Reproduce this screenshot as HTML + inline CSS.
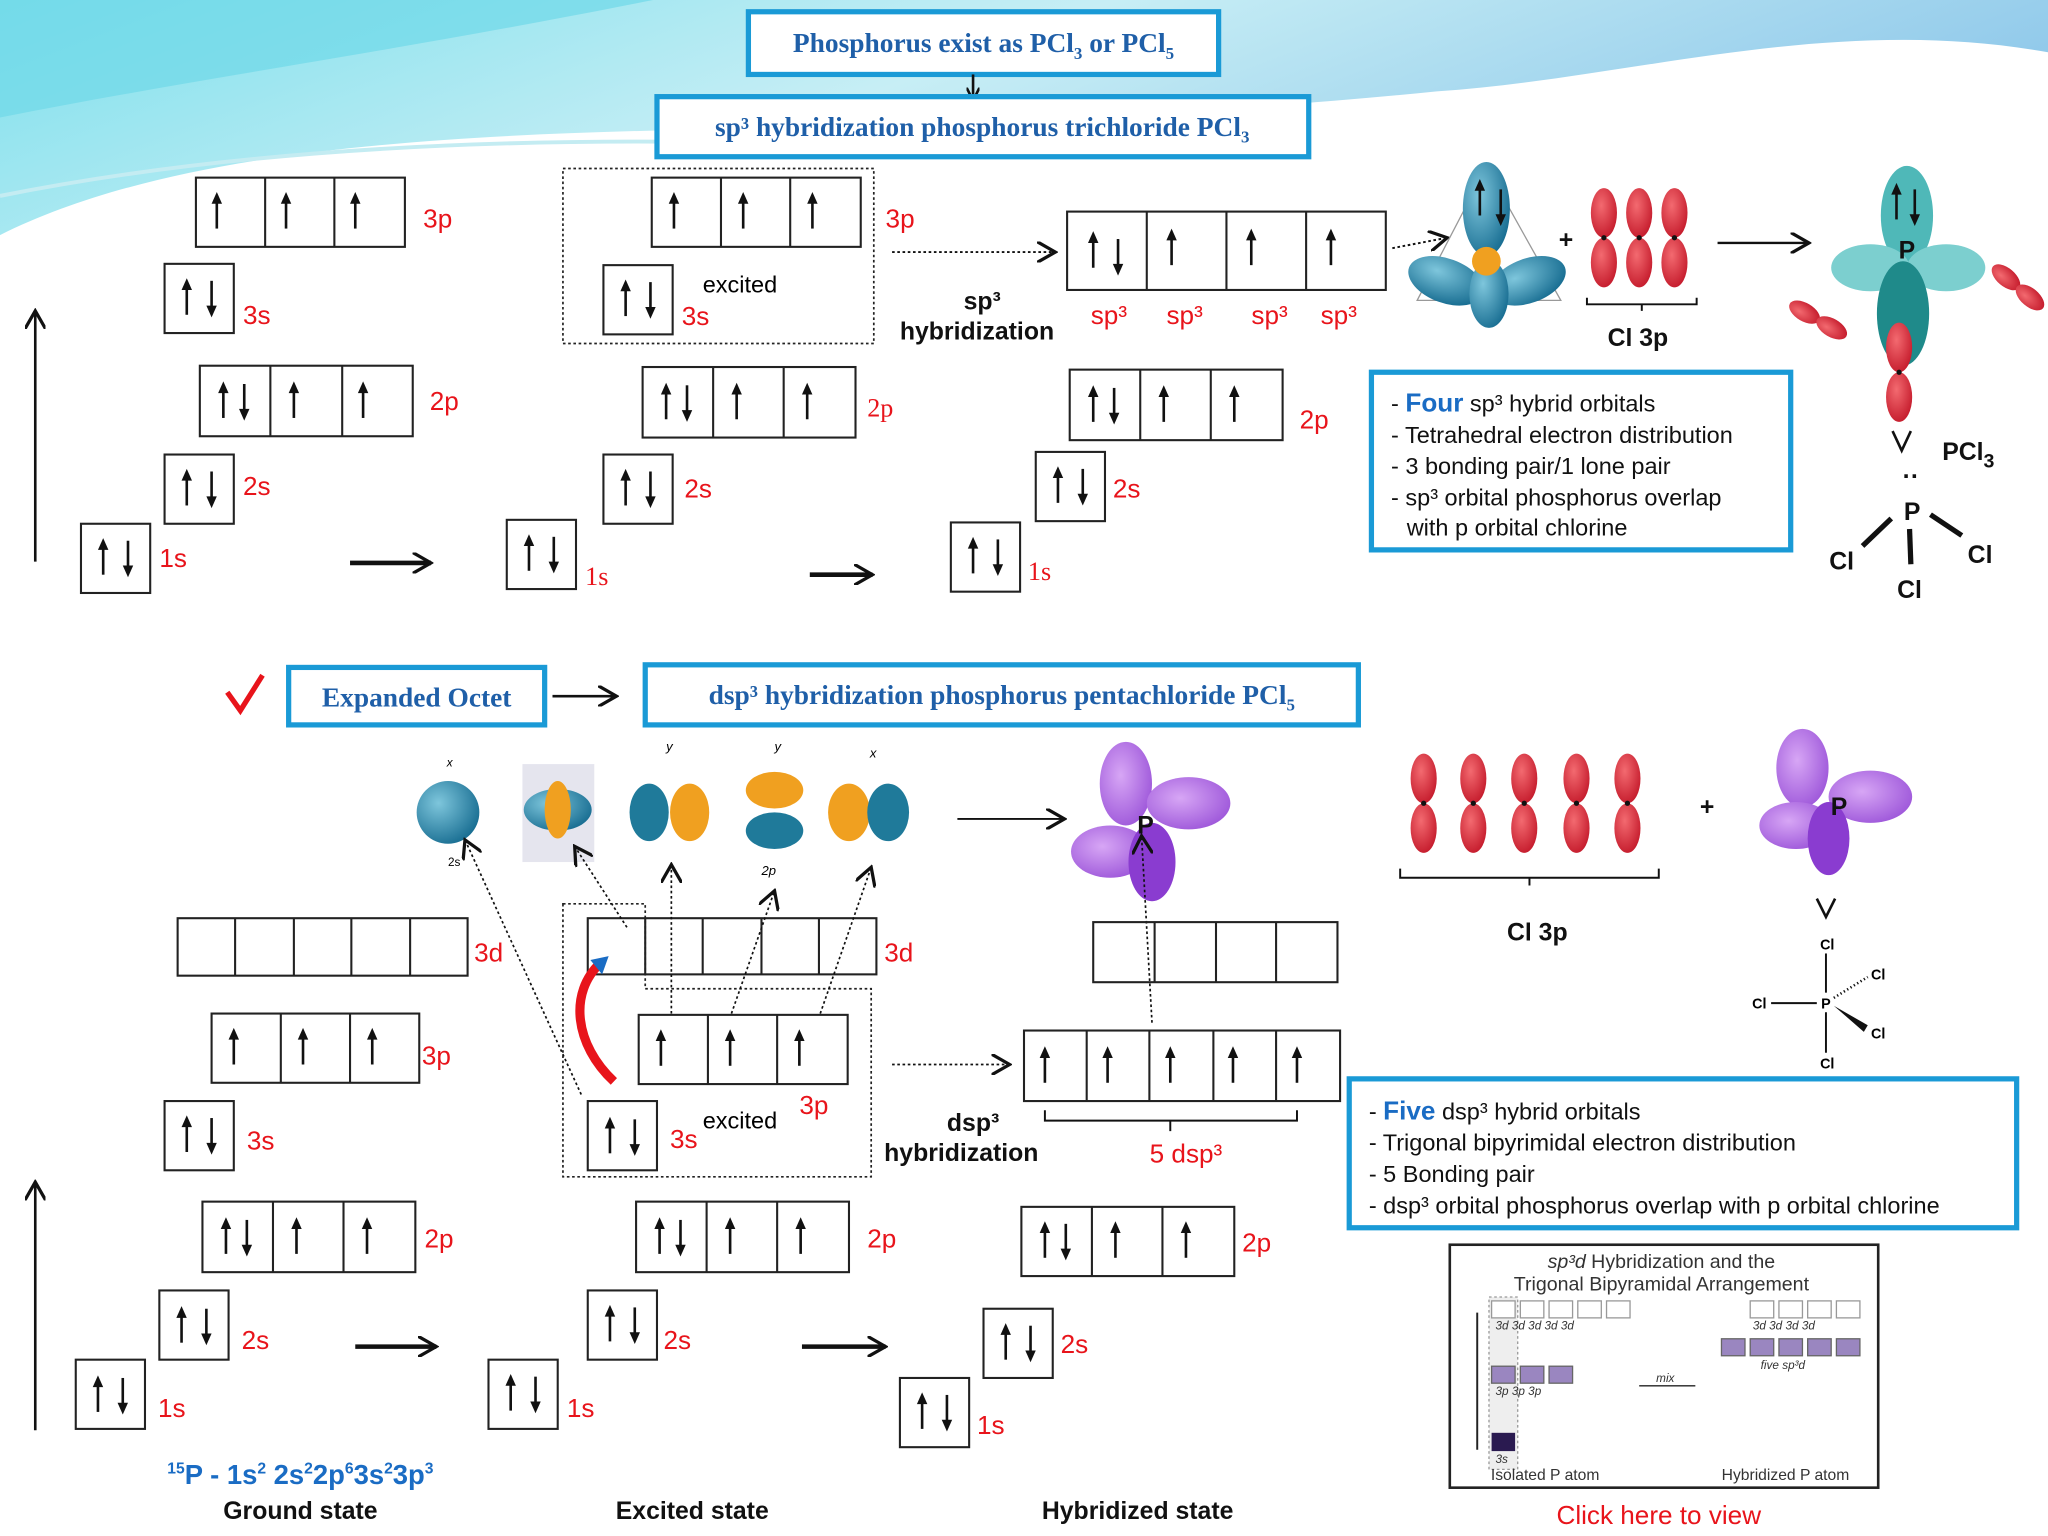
<!DOCTYPE html>
<html><head><meta charset="utf-8"><style>
html,body{margin:0;padding:0;background:#fff;}
svg{display:block;}
text{font-family:"Liberation Sans",sans-serif;}
.r{fill:#e8141b;font-size:20px;}
.rs{fill:#e8141b;font-size:20px;font-family:"Liberation Serif",serif;}
.k{fill:#000;font-size:18px;}
.kb{fill:#111;font-size:19px;font-weight:bold;}
.t{fill:#1f5fa8;font-size:21px;font-weight:bold;font-family:"Liberation Serif",serif;}
.i{fill:#111;font-size:18px;}
.bx rect,.bx line{fill:none;stroke:#222;stroke-width:1.6;}
</style></head><body>
<svg width="2048" height="1536" viewBox="0 0 1568 1176" xmlns="http://www.w3.org/2000/svg">
<defs>
<linearGradient id="sky" x1="0" y1="0" x2="1" y2="0.3"><stop offset="0" stop-color="#7fe0ec"/><stop offset="0.5" stop-color="#c7eef5"/><stop offset="1" stop-color="#8fc8ea"/></linearGradient>
<radialGradient id="tl" cx="0.35" cy="0.35" r="0.7"><stop offset="0" stop-color="#7ec6dc"/><stop offset="1" stop-color="#1a6f93"/></radialGradient>
<radialGradient id="pu" cx="0.4" cy="0.4" r="0.7"><stop offset="0" stop-color="#d7a6f5"/><stop offset="1" stop-color="#9a52d8"/></radialGradient>
<radialGradient id="rd" cx="0.4" cy="0.35" r="0.7"><stop offset="0" stop-color="#f36a70"/><stop offset="1" stop-color="#c41a2b"/></radialGradient>
<g id="u"><line x1="0" y1="13" x2="0" y2="-8" stroke="#111" stroke-width="2"/><path d="M-4,-6 L0,-15 L4,-6Z" fill="#111"/></g>
<g id="d"><line x1="0" y1="-13" x2="0" y2="8" stroke="#111" stroke-width="2"/><path d="M-4,6 L0,15 L4,6Z" fill="#111"/></g>
<g id="cl"><ellipse cx="0" cy="-19" rx="10" ry="19" fill="url(#rd)"/><ellipse cx="0" cy="19" rx="10" ry="19" fill="url(#rd)"/><circle r="2" fill="#111"/></g>
<marker id="ah" markerWidth="10" markerHeight="10" refX="9" refY="5" orient="auto" markerUnits="userSpaceOnUse"><path d="M0,0 L10,5 L0,10" fill="none" stroke="#111" stroke-width="2"/></marker>
<marker id="ah2" markerWidth="16" markerHeight="16" refX="14" refY="8" orient="auto" markerUnits="userSpaceOnUse"><path d="M0,0 L14,8 L0,16" fill="none" stroke="#111" stroke-width="2.5"/></marker>
</defs>
<!-- background sky -->
<path d="M0,0 H1568 V40 C1400,10 1250,60 1100,70 C900,90 700,95 500,100 C300,105 120,120 0,180 Z" fill="url(#sky)"/>
<path d="M0,90 C150,60 300,40 500,0 H0Z" fill="#6fd8e8" opacity="0.7"/>
<path d="M0,150 C200,110 420,105 600,110" stroke="#c4ecf2" stroke-width="3" fill="none"/>

<!-- title boxes -->
<rect x="573" y="9" width="360" height="48" fill="#fff" stroke="#1a9ad6" stroke-width="4"/>
<text x="753" y="40" text-anchor="middle" class="t">Phosphorus exist as PCl<tspan font-size="13" dy="5">3</tspan><tspan dy="-5"> or PCl</tspan><tspan font-size="13" dy="5">5</tspan></text>
<line x1="745" y1="57" x2="745" y2="76" stroke="#111" stroke-width="2" marker-end="url(#ah)"/>
<rect x="503" y="74" width="499" height="46" fill="#fff" stroke="#1a9ad6" stroke-width="4"/>
<text x="752" y="104" text-anchor="middle" class="t">sp³ hybridization phosphorus trichloride PCl<tspan font-size="13" dy="5">3</tspan></text>

<!-- TOP ground -->
<g class="bx">
<rect x="150" y="136" width="160" height="53"/><line x1="203" y1="136" x2="203" y2="189"/><line x1="256" y1="136" x2="256" y2="189"/>
<rect x="126" y="202" width="53" height="53"/>
<rect x="153" y="280" width="163" height="54"/><line x1="207" y1="280" x2="207" y2="334"/><line x1="262" y1="280" x2="262" y2="334"/>
<rect x="126" y="348" width="53" height="53"/>
<rect x="62" y="401" width="53" height="53"/>
</g>
<use href="#u" x="166" y="162"/><use href="#u" x="219" y="162"/><use href="#u" x="272" y="162"/>
<use href="#u" x="143" y="228"/><use href="#d" x="162" y="228"/>
<use href="#u" x="171" y="307"/><use href="#d" x="187" y="307"/><use href="#u" x="225" y="307"/><use href="#u" x="278" y="307"/>
<use href="#u" x="143" y="374"/><use href="#d" x="162" y="374"/>
<use href="#u" x="79" y="427"/><use href="#d" x="98" y="427"/>
<text x="324" y="174" class="r">3p</text><text x="186" y="248" class="r">3s</text><text x="329" y="314" class="r">2p</text><text x="186" y="379" class="r">2s</text><text x="122" y="434" class="r">1s</text>
<line x1="268" y1="431" x2="330" y2="431" stroke="#111" stroke-width="3.5" marker-end="url(#ah2)"/>
<line x1="27" y1="430" x2="27" y2="238" stroke="#111" stroke-width="2" marker-end="url(#ah2)"/>

<!-- TOP excited -->
<rect x="431" y="129" width="238" height="134" fill="none" stroke="#222" stroke-width="1.3" stroke-dasharray="2,2"/>
<g class="bx">
<rect x="499" y="136" width="160" height="53"/><line x1="552" y1="136" x2="552" y2="189"/><line x1="605" y1="136" x2="605" y2="189"/>
<rect x="462" y="203" width="53" height="53"/>
<rect x="492" y="281" width="163" height="54"/><line x1="546" y1="281" x2="546" y2="335"/><line x1="600" y1="281" x2="600" y2="335"/>
<rect x="462" y="348" width="53" height="53"/>
<rect x="388" y="398" width="53" height="53"/>
</g>
<use href="#u" x="516" y="162"/><use href="#u" x="569" y="162"/><use href="#u" x="622" y="162"/>
<use href="#u" x="479" y="229"/><use href="#d" x="498" y="229"/>
<use href="#u" x="510" y="308"/><use href="#d" x="526" y="308"/><use href="#u" x="564" y="308"/><use href="#u" x="618" y="308"/>
<use href="#u" x="479" y="374"/><use href="#d" x="498" y="374"/>
<use href="#u" x="405" y="424"/><use href="#d" x="424" y="424"/>
<text x="678" y="174" class="r">3p</text><text x="538" y="224" class="k">excited</text><text x="522" y="249" class="r">3s</text><text x="664" y="319" class="rs">2p</text><text x="524" y="381" class="r">2s</text><text x="448" y="448" class="rs">1s</text>
<line x1="620" y1="440" x2="668" y2="440" stroke="#111" stroke-width="3.5" marker-end="url(#ah2)"/>
<line x1="683" y1="193" x2="808" y2="193" stroke="#111" stroke-width="1.5" stroke-dasharray="2,2" marker-end="url(#ah2)"/>
<text x="752" y="237" text-anchor="middle" class="kb">sp³</text><text x="748" y="260" text-anchor="middle" class="kb">hybridization</text>

<!-- TOP hybridized -->
<g class="bx">
<rect x="817" y="162" width="244" height="60"/><line x1="878" y1="162" x2="878" y2="222"/><line x1="939" y1="162" x2="939" y2="222"/><line x1="1000" y1="162" x2="1000" y2="222"/>
<rect x="819" y="283" width="163" height="54"/><line x1="873" y1="283" x2="873" y2="337"/><line x1="927" y1="283" x2="927" y2="337"/>
<rect x="793" y="346" width="53" height="53"/>
<rect x="728" y="400" width="53" height="53"/>
</g>
<use href="#u" x="837" y="192"/><use href="#d" x="856" y="196"/><use href="#u" x="897" y="190"/><use href="#u" x="958" y="190"/><use href="#u" x="1019" y="190"/>
<use href="#u" x="837" y="310"/><use href="#d" x="853" y="310"/><use href="#u" x="891" y="310"/><use href="#u" x="945" y="310"/>
<use href="#u" x="810" y="372"/><use href="#d" x="829" y="372"/>
<use href="#u" x="745" y="426"/><use href="#d" x="764" y="426"/>
<text x="849" y="248" text-anchor="middle" class="r">sp³</text><text x="907" y="248" text-anchor="middle" class="r">sp³</text><text x="972" y="248" text-anchor="middle" class="r">sp³</text><text x="1025" y="248" text-anchor="middle" class="r">sp³</text>
<text x="995" y="328" class="r">2p</text><text x="852" y="381" class="r">2s</text><text x="787" y="444" class="rs">1s</text>

<!-- tetrahedral hybrid -->
<line x1="1066" y1="190" x2="1108" y2="182" stroke="#111" stroke-width="1.5" stroke-dasharray="2,2" marker-end="url(#ah2)"/>
<path d="M1138,128 L1085,230 L1195,230 Z" fill="none" stroke="#999" stroke-width="1"/>
<ellipse cx="1138" cy="160" rx="18" ry="36" fill="url(#tl)"/>
<ellipse cx="1107" cy="215" rx="30" ry="17" transform="rotate(20 1107 215)" fill="url(#tl)"/>
<ellipse cx="1170" cy="215" rx="30" ry="17" transform="rotate(-20 1170 215)" fill="url(#tl)"/>
<ellipse cx="1140" cy="225" rx="15" ry="26" fill="url(#tl)"/>
<circle cx="1138" cy="200" r="11" fill="#f0a020"/>
<use href="#u" x="1133" y="152"/><use href="#d" x="1149" y="158"/>
<text x="1199" y="190" text-anchor="middle" class="kb" font-size="22">+</text>
<use href="#cl" x="1228" y="182"/><use href="#cl" x="1255" y="182"/><use href="#cl" x="1282" y="182"/>
<path d="M1215,228 V233 H1299 V228 M1257,233 V238" fill="none" stroke="#111" stroke-width="1.5"/>
<text x="1254" y="265" text-anchor="middle" class="kb">Cl 3p</text>
<line x1="1315" y1="186" x2="1385" y2="186" stroke="#111" stroke-width="1.8" marker-end="url(#ah2)"/>
<!-- PCl3 overlap -->
<ellipse cx="1460" cy="165" rx="20" ry="38" fill="#4fb8b8"/>
<ellipse cx="1432" cy="205" rx="30" ry="18" fill="#7ccfcf"/>
<ellipse cx="1490" cy="205" rx="30" ry="18" fill="#7ccfcf"/>
<ellipse cx="1457" cy="240" rx="20" ry="40" fill="#1f8a8a"/>
<text x="1460" y="198" text-anchor="middle" class="kb">P</text>
<use href="#u" x="1452" y="155"/><use href="#d" x="1466" y="158"/>
<use href="#cl" x="1454" y="285" transform="scale(1)"/>
<g transform="translate(1392,245) rotate(-60)"><ellipse cx="0" cy="-12" rx="7" ry="13" fill="url(#rd)"/><ellipse cx="0" cy="12" rx="7" ry="13" fill="url(#rd)"/></g>
<g transform="translate(1545,220) rotate(-50)"><ellipse cx="0" cy="-12" rx="7" ry="13" fill="url(#rd)"/><ellipse cx="0" cy="12" rx="7" ry="13" fill="url(#rd)"/></g>
<path d="M1449,330 L1456,345 L1463,330" fill="none" stroke="#111" stroke-width="2"/>
<text x="1487" y="352" class="kb" font-size="23">PCl<tspan font-size="15" dy="6">3</tspan></text>
<text x="1463" y="371" text-anchor="middle" class="kb">··</text>
<text x="1464" y="398" text-anchor="middle" class="kb" font-size="22">P</text>
<line x1="1448" y1="397" x2="1426" y2="418" stroke="#111" stroke-width="4"/>
<line x1="1478" y1="394" x2="1502" y2="410" stroke="#111" stroke-width="4"/>
<line x1="1462" y1="405" x2="1463" y2="432" stroke="#111" stroke-width="4"/>
<text x="1410" y="436" text-anchor="middle" class="kb">Cl</text><text x="1516" y="431" text-anchor="middle" class="kb">Cl</text><text x="1462" y="458" text-anchor="middle" class="kb">Cl</text>
<!-- info box top -->
<rect x="1050" y="285" width="321" height="136" fill="#fff" stroke="#1a9ad6" stroke-width="4"/>
<text x="1065" y="315" class="i">- <tspan fill="#1a6cc4" font-weight="bold" font-size="20">Four</tspan> sp³ hybrid orbitals</text>
<text x="1065" y="339" class="i">- Tetrahedral electron distribution</text>
<text x="1065" y="363" class="i">- 3 bonding pair/1 lone pair</text>
<text x="1065" y="387" class="i">- sp³ orbital phosphorus overlap</text>
<text x="1077" y="410" class="i">with p orbital chlorine</text>

<!-- BOTTOM headers -->
<path d="M174,530 L184,544 L201,517" fill="none" stroke="#e8141b" stroke-width="4"/>
<rect x="221" y="511" width="196" height="44" fill="#fff" stroke="#1a9ad6" stroke-width="4"/>
<text x="319" y="541" text-anchor="middle" class="t">Expanded Octet</text>
<line x1="423" y1="533" x2="472" y2="533" stroke="#111" stroke-width="2" marker-end="url(#ah2)"/>
<rect x="494" y="509" width="546" height="46" fill="#fff" stroke="#1a9ad6" stroke-width="4"/>
<text x="767" y="539" text-anchor="middle" class="t">dsp³ hybridization phosphorus pentachloride PCl<tspan font-size="13" dy="5">5</tspan></text>

<!-- orbitals row -->
<circle cx="343" cy="622" r="24" fill="url(#tl)"/><text x="342" y="587" font-size="9" font-style="italic">x</text><text x="343" y="663" font-size="9">2s</text>
<rect x="400" y="585" width="55" height="75" fill="#ccd" opacity="0.5"/>
<ellipse cx="427" cy="620" rx="26" ry="16" fill="url(#tl)"/><ellipse cx="427" cy="620" rx="10" ry="22" fill="#f0a020"/>
<ellipse cx="497" cy="622" rx="15" ry="22" fill="#1f7a9a"/><ellipse cx="528" cy="622" rx="15" ry="22" fill="#f0a020"/><text x="510" y="575" font-size="10" font-style="italic">y</text>
<ellipse cx="593" cy="605" rx="22" ry="14" fill="#f0a020"/><ellipse cx="593" cy="636" rx="22" ry="14" fill="#1f7a9a"/><text x="593" y="575" font-size="10" font-style="italic">y</text><text x="583" y="670" font-size="10" font-style="italic">2p</text>
<ellipse cx="650" cy="622" rx="16" ry="22" fill="#f0a020"/><ellipse cx="680" cy="622" rx="16" ry="22" fill="#1f7a9a"/><text x="666" y="580" font-size="10" font-style="italic">x</text>
<line x1="733" y1="627" x2="815" y2="627" stroke="#111" stroke-width="1.5" marker-end="url(#ah2)"/>
<g>
<ellipse cx="862" cy="600" rx="20" ry="32" fill="url(#pu)"/><ellipse cx="910" cy="615" rx="32" ry="20" fill="url(#pu)"/>
<ellipse cx="850" cy="652" rx="30" ry="20" fill="url(#pu)"/><ellipse cx="882" cy="660" rx="18" ry="30" fill="#8a3cd0"/>
</g>
<text x="877" y="638" text-anchor="middle" class="kb">P</text>
<use href="#cl" x="1090" y="615"/><use href="#cl" x="1128" y="615"/><use href="#cl" x="1167" y="615"/><use href="#cl" x="1207" y="615"/><use href="#cl" x="1246" y="615"/>
<path d="M1072,665 V672 H1270 V665 M1171,672 V678" fill="none" stroke="#111" stroke-width="1.5"/>
<text x="1177" y="720" text-anchor="middle" class="kb">Cl 3p</text>
<text x="1307" y="624" text-anchor="middle" class="kb" font-size="24">+</text>
<ellipse cx="1380" cy="588" rx="20" ry="30" fill="url(#pu)"/><ellipse cx="1432" cy="610" rx="32" ry="20" fill="url(#pu)"/>
<ellipse cx="1375" cy="632" rx="28" ry="18" fill="url(#pu)"/><ellipse cx="1400" cy="642" rx="16" ry="28" fill="#8a3cd0"/>
<text x="1408" y="624" text-anchor="middle" class="kb">P</text>
<path d="M1391,688 L1398,702 L1405,688" fill="none" stroke="#111" stroke-width="2"/>
<!-- PCl5 structure -->
<g font-size="11" font-weight="bold"><text x="1399" y="727" text-anchor="middle">Cl</text><text x="1398" y="772" text-anchor="middle">P</text><text x="1347" y="772" text-anchor="middle">Cl</text><text x="1438" y="750" text-anchor="middle">Cl</text><text x="1438" y="795" text-anchor="middle">Cl</text><text x="1399" y="818" text-anchor="middle">Cl</text></g>
<line x1="1398" y1="730" x2="1398" y2="760" stroke="#111" stroke-width="1.5"/><line x1="1398" y1="775" x2="1398" y2="806" stroke="#111" stroke-width="1.5"/>
<line x1="1356" y1="768" x2="1391" y2="768" stroke="#111" stroke-width="1.5"/>
<line x1="1404" y1="764" x2="1430" y2="748" stroke="#111" stroke-width="2" stroke-dasharray="1,2"/>
<path d="M1404,770 L1430,785 L1427,790 Z" fill="#111"/>

<!-- BOTTOM ground -->
<g class="bx">
<rect x="136" y="703" width="222" height="44"/><line x1="180" y1="703" x2="180" y2="747"/><line x1="225" y1="703" x2="225" y2="747"/><line x1="269" y1="703" x2="269" y2="747"/><line x1="314" y1="703" x2="314" y2="747"/>
<rect x="162" y="776" width="159" height="53"/><line x1="215" y1="776" x2="215" y2="829"/><line x1="268" y1="776" x2="268" y2="829"/>
<rect x="126" y="843" width="53" height="53"/>
<rect x="155" y="920" width="163" height="54"/><line x1="209" y1="920" x2="209" y2="974"/><line x1="263" y1="920" x2="263" y2="974"/>
<rect x="122" y="988" width="53" height="53"/>
<rect x="58" y="1041" width="53" height="53"/>
</g>
<use href="#u" x="179" y="802"/><use href="#u" x="232" y="802"/><use href="#u" x="285" y="802"/>
<use href="#u" x="143" y="869"/><use href="#d" x="162" y="869"/>
<use href="#u" x="173" y="947"/><use href="#d" x="189" y="947"/><use href="#u" x="227" y="947"/><use href="#u" x="281" y="947"/>
<use href="#u" x="139" y="1015"/><use href="#d" x="158" y="1015"/>
<use href="#u" x="75" y="1068"/><use href="#d" x="94" y="1068"/>
<text x="363" y="736" class="r">3d</text><text x="323" y="815" class="r">3p</text><text x="189" y="880" class="r">3s</text><text x="325" y="955" class="r">2p</text><text x="185" y="1033" class="r">2s</text><text x="121" y="1085" class="r">1s</text>
<line x1="272" y1="1031" x2="334" y2="1031" stroke="#111" stroke-width="3.5" marker-end="url(#ah2)"/>
<line x1="27" y1="1095" x2="27" y2="905" stroke="#111" stroke-width="2" marker-end="url(#ah2)"/>
<text x="230" y="1136" text-anchor="middle" fill="#1a6cc4" font-size="21" font-weight="bold"><tspan font-size="12" dy="-8">15</tspan><tspan dy="8">P - 1s</tspan><tspan font-size="12" dy="-8">2</tspan><tspan dy="8"> 2s</tspan><tspan font-size="12" dy="-8">2</tspan><tspan dy="8">2p</tspan><tspan font-size="12" dy="-8">6</tspan><tspan dy="8">3s</tspan><tspan font-size="12" dy="-8">2</tspan><tspan dy="8">3p</tspan><tspan font-size="12" dy="-8">3</tspan></text>
<text x="230" y="1163" text-anchor="middle" class="kb">Ground state</text>

<!-- BOTTOM excited -->
<path d="M431,692 H494 V757 H667 V901 H431 Z" fill="none" stroke="#222" stroke-width="1.3" stroke-dasharray="2,2"/>
<g class="bx">
<rect x="450" y="703" width="221" height="43"/><line x1="494" y1="703" x2="494" y2="746"/><line x1="538" y1="703" x2="538" y2="746"/><line x1="583" y1="703" x2="583" y2="746"/><line x1="627" y1="703" x2="627" y2="746"/>
<rect x="489" y="777" width="160" height="53"/><line x1="542" y1="777" x2="542" y2="830"/><line x1="595" y1="777" x2="595" y2="830"/>
<rect x="450" y="843" width="53" height="53"/>
<rect x="487" y="920" width="163" height="54"/><line x1="541" y1="920" x2="541" y2="974"/><line x1="595" y1="920" x2="595" y2="974"/>
<rect x="450" y="988" width="53" height="53"/>
<rect x="374" y="1041" width="53" height="53"/>
</g>
<use href="#u" x="506" y="803"/><use href="#u" x="559" y="803"/><use href="#u" x="612" y="803"/>
<use href="#u" x="467" y="870"/><use href="#d" x="486" y="870"/>
<use href="#u" x="505" y="947"/><use href="#d" x="521" y="947"/><use href="#u" x="559" y="947"/><use href="#u" x="613" y="947"/>
<use href="#u" x="467" y="1014"/><use href="#d" x="486" y="1014"/>
<use href="#u" x="391" y="1067"/><use href="#d" x="410" y="1067"/>
<text x="677" y="736" class="r">3d</text><text x="612" y="853" class="r">3p</text><text x="538" y="864" class="k" font-size="17">excited</text><text x="513" y="879" class="r">3s</text><text x="664" y="955" class="r">2p</text><text x="508" y="1033" class="r">2s</text><text x="434" y="1085" class="r">1s</text>
<path d="M470,828 C440,800 435,760 460,737" fill="none" stroke="#e8141b" stroke-width="7"/>
<path d="M452,735 L466,732 L461,746Z" fill="#1a6cc4"/>
<line x1="614" y1="1031" x2="678" y2="1031" stroke="#111" stroke-width="3.5" marker-end="url(#ah2)"/>
<g stroke="#111" stroke-width="1.3" stroke-dasharray="2,2" fill="none">
<line x1="445" y1="838" x2="356" y2="643" marker-end="url(#ah2)"/>
<line x1="480" y1="710" x2="440" y2="648" marker-end="url(#ah2)"/>
<line x1="514" y1="776" x2="514" y2="662" marker-end="url(#ah2)"/>
<line x1="560" y1="776" x2="593" y2="682" marker-end="url(#ah2)"/>
<line x1="628" y1="776" x2="667" y2="664" marker-end="url(#ah2)"/>
<line x1="683" y1="815" x2="773" y2="815" marker-end="url(#ah2)"/>
<line x1="882" y1="783" x2="874" y2="640" marker-end="url(#ah2)"/>
</g>
<text x="745" y="866" text-anchor="middle" class="kb">dsp³</text><text x="736" y="889" text-anchor="middle" class="kb">hybridization</text>
<text x="530" y="1163" text-anchor="middle" class="kb">Excited state</text>

<!-- BOTTOM hybridized -->
<g class="bx">
<rect x="837" y="706" width="187" height="46"/><line x1="884" y1="706" x2="884" y2="752"/><line x1="931" y1="706" x2="931" y2="752"/><line x1="977" y1="706" x2="977" y2="752"/>
<rect x="784" y="789" width="242" height="54"/><line x1="832" y1="789" x2="832" y2="843"/><line x1="880" y1="789" x2="880" y2="843"/><line x1="929" y1="789" x2="929" y2="843"/><line x1="977" y1="789" x2="977" y2="843"/>
<rect x="782" y="924" width="163" height="53"/><line x1="836" y1="924" x2="836" y2="977"/><line x1="890" y1="924" x2="890" y2="977"/>
<rect x="753" y="1002" width="53" height="53"/>
<rect x="689" y="1055" width="53" height="53"/>
</g>
<use href="#u" x="800" y="816"/><use href="#u" x="848" y="816"/><use href="#u" x="896" y="816"/><use href="#u" x="944" y="816"/><use href="#u" x="993" y="816"/>
<use href="#u" x="800" y="950"/><use href="#d" x="816" y="950"/><use href="#u" x="854" y="950"/><use href="#u" x="908" y="950"/>
<use href="#u" x="770" y="1028"/><use href="#d" x="789" y="1028"/>
<use href="#u" x="706" y="1081"/><use href="#d" x="725" y="1081"/>
<path d="M800,850 V858 H993 V850 M896,858 V866" fill="none" stroke="#111" stroke-width="1.5"/>
<text x="908" y="890" text-anchor="middle" class="r" font-size="18">5 dsp³</text>
<text x="951" y="958" class="r">2p</text><text x="812" y="1036" class="r">2s</text><text x="748" y="1098" class="r">1s</text>
<text x="871" y="1163" text-anchor="middle" class="kb">Hybridized state</text>

<!-- info box bottom -->
<rect x="1033" y="826" width="511" height="114" fill="#fff" stroke="#1a9ad6" stroke-width="4"/>
<text x="1048" y="857" class="i">- <tspan fill="#1a6cc4" font-weight="bold" font-size="20">Five</tspan> dsp³ hybrid orbitals</text>
<text x="1048" y="881" class="i">- Trigonal bipyrimidal electron distribution</text>
<text x="1048" y="905" class="i">- 5 Bonding pair</text>
<text x="1048" y="929" class="i">- dsp³ orbital phosphorus overlap with p orbital chlorine</text>

<!-- small image -->
<rect x="1110" y="953" width="328" height="186" fill="#fff" stroke="#222" stroke-width="2"/>
<text x="1272" y="971" text-anchor="middle" font-size="15" fill="#333"><tspan font-style="italic">sp³d</tspan> Hybridization and the</text>
<text x="1272" y="988" text-anchor="middle" font-size="15" fill="#333">Trigonal Bipyramidal Arrangement</text>
<rect x="1140" y="993" width="22" height="132" fill="#eee" stroke="#999" stroke-dasharray="2,2"/>
<g fill="#fff" stroke="#999"><rect x="1142" y="996" width="18" height="13"/><rect x="1164" y="996" width="18" height="13"/><rect x="1186" y="996" width="18" height="13"/><rect x="1208" y="996" width="18" height="13"/><rect x="1230" y="996" width="18" height="13"/>
<rect x="1340" y="996" width="18" height="13"/><rect x="1362" y="996" width="18" height="13"/><rect x="1384" y="996" width="18" height="13"/><rect x="1406" y="996" width="18" height="13"/></g>
<g fill="#9a86c0" stroke="#666"><rect x="1142" y="1046" width="18" height="13"/><rect x="1164" y="1046" width="18" height="13"/><rect x="1186" y="1046" width="18" height="13"/>
<rect x="1318" y="1025" width="18" height="13"/><rect x="1340" y="1025" width="18" height="13"/><rect x="1362" y="1025" width="18" height="13"/><rect x="1384" y="1025" width="18" height="13"/><rect x="1406" y="1025" width="18" height="13"/></g>
<rect x="1142" y="1097" width="18" height="14" fill="#2a1a50"/>
<line x1="1131" y1="1110" x2="1131" y2="1005" stroke="#222" stroke-width="1.5"/>
<g font-size="9" fill="#333" font-style="italic"><text x="1145" y="1018">3d 3d 3d 3d 3d</text><text x="1342" y="1018">3d 3d 3d 3d</text><text x="1145" y="1068">3p 3p 3p</text><text x="1348" y="1048">five sp³d</text><text x="1145" y="1120">3s</text><text x="1268" y="1058">mix</text></g>
<line x1="1255" y1="1061" x2="1298" y2="1061" stroke="#222"/>
<text x="1183" y="1133" text-anchor="middle" font-size="12" fill="#333">Isolated P atom</text>
<text x="1367" y="1133" text-anchor="middle" font-size="12" fill="#333">Hybridized P atom</text>
<text x="1270" y="1167" text-anchor="middle" fill="#e8141b" font-size="20">Click here to view</text>
</svg>
</body></html>
